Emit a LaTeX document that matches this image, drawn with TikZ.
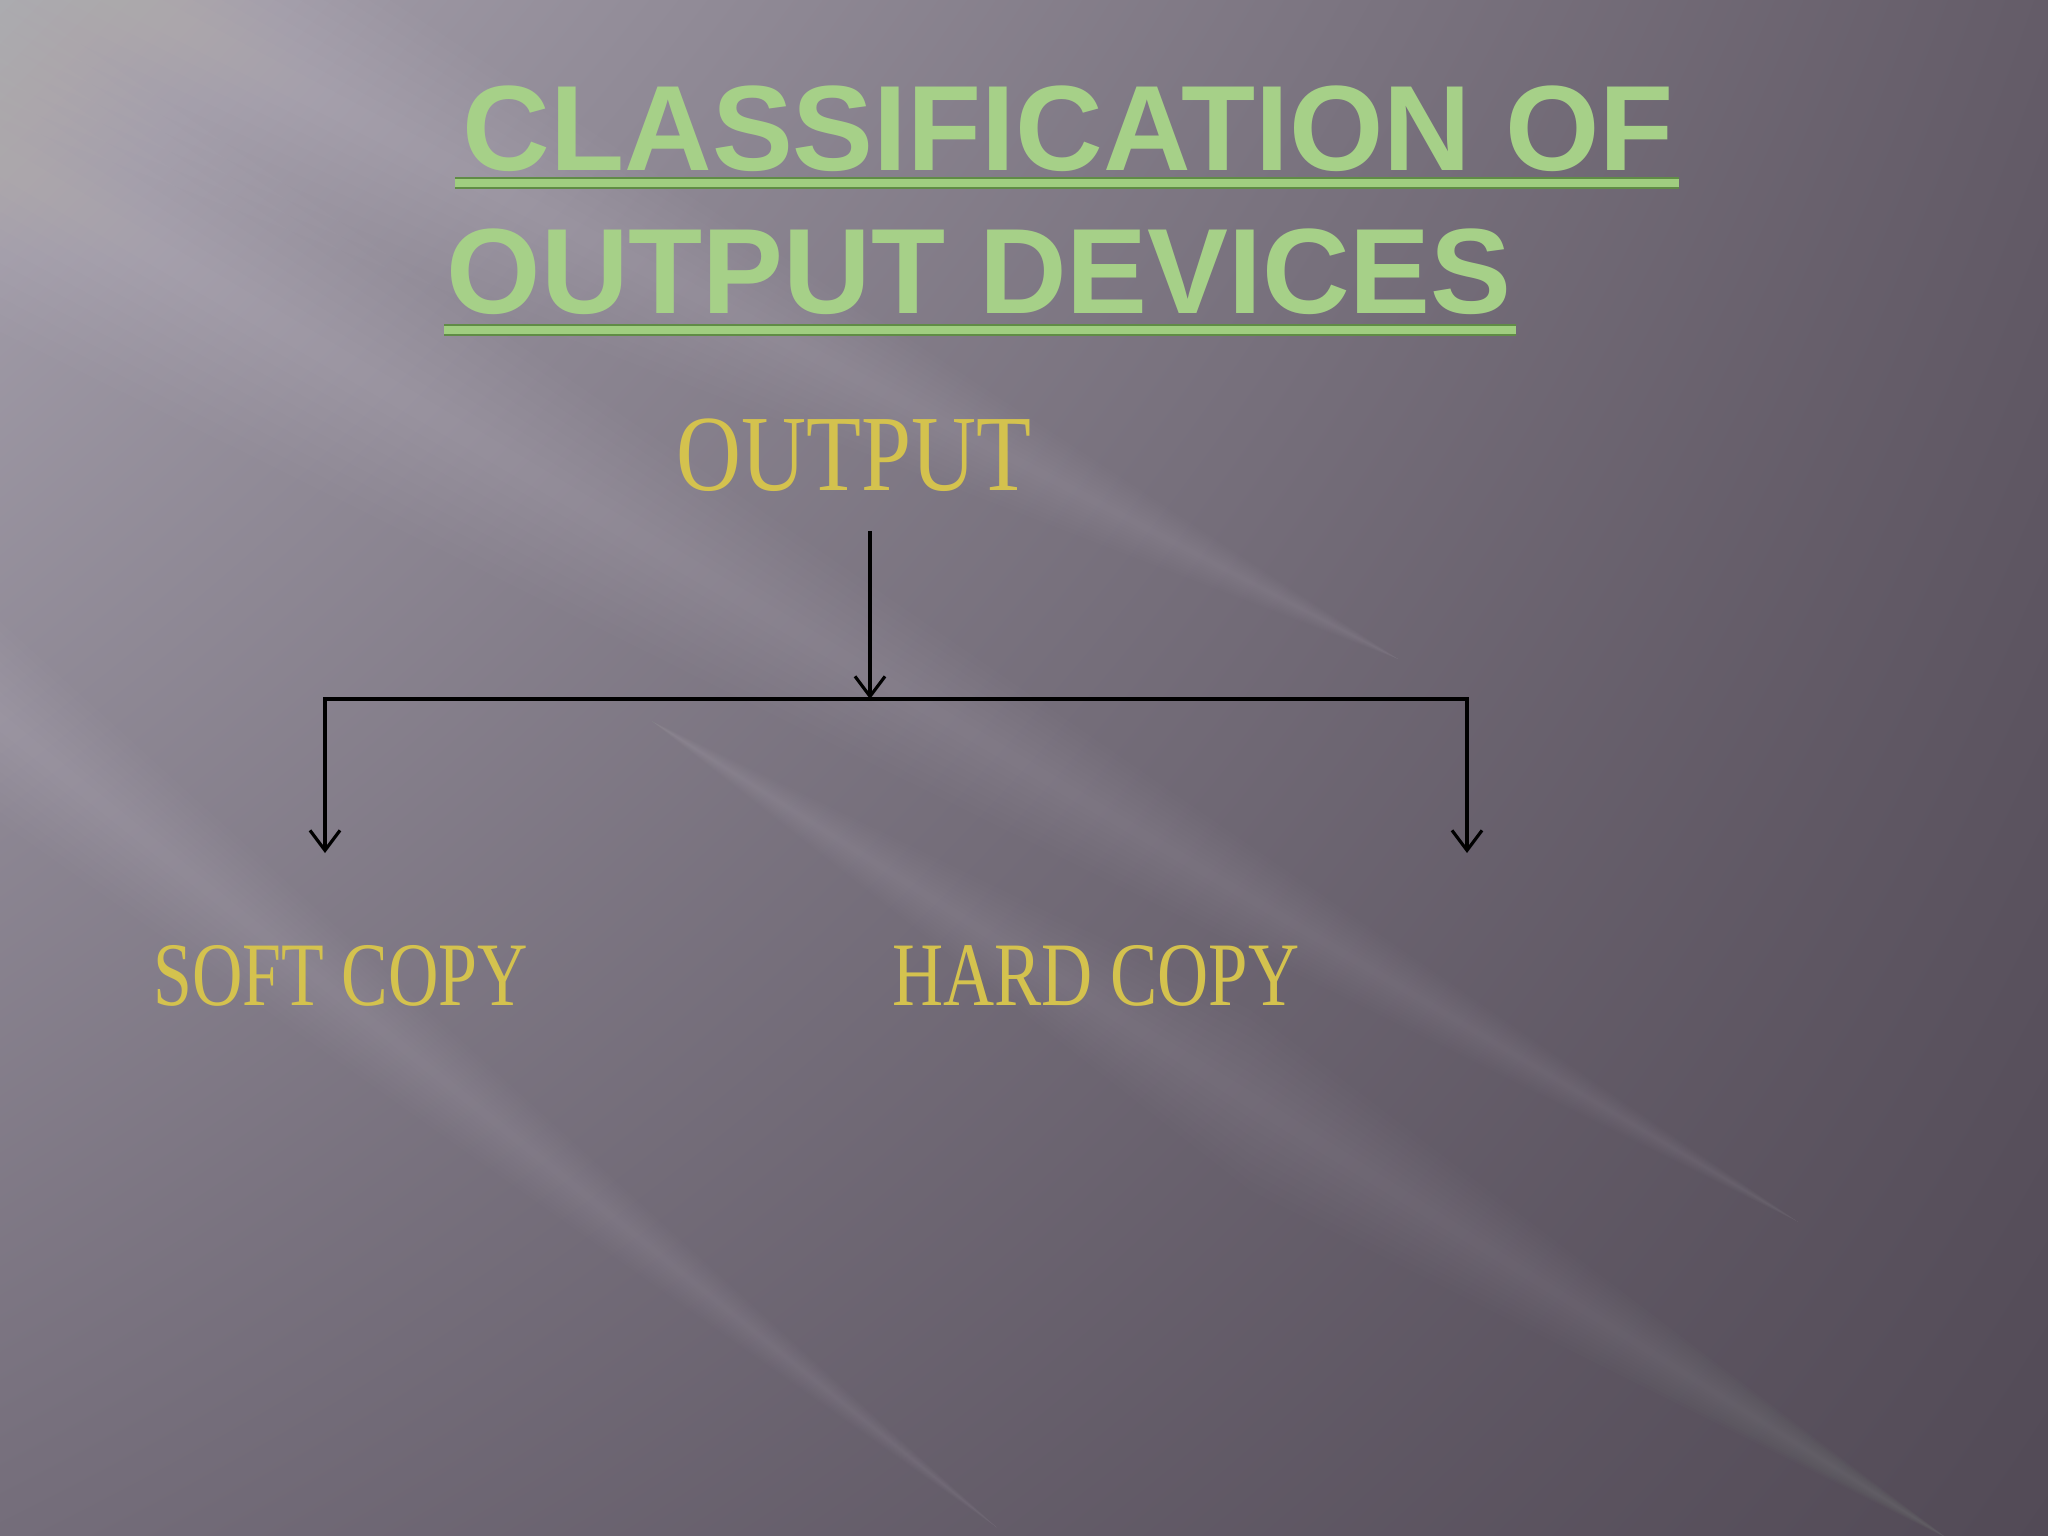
\documentclass[tikz,border=0pt]{standalone}
\usepackage{fontspec}
\usetikzlibrary{arrows.meta,positioning,shadings}
\newfontfamily\headfont{Liberation Sans}
\newfontfamily\goldfont{Liberation Serif}
\definecolor{bgul}{RGB}{168,163,175}
\definecolor{bgur}{RGB}{100,92,104}
\definecolor{bgll}{RGB}{116,109,122}
\definecolor{bglr}{RGB}{82,74,86}
\definecolor{titlegreen}{RGB}{166,208,136}
\definecolor{linegreen}{RGB}{160,206,128}
\definecolor{edgegreen}{RGB}{96,140,70}
\definecolor{gold}{RGB}{212,194,78}

\begin{document}
\begin{tikzpicture}[x=0.01cm,y=-0.01cm,
    ttl/.style={inner sep=0pt, anchor=base west, text=titlegreen,
      font=\headfont\bfseries\fontsize{34.5}{40}\selectfont},
    uline/.style={draw=edgegreen, line width=0.5pt, double=linegreen, double distance=2.2pt},
    lbl/.style={inner sep=0pt, anchor=base, text=gold},
    branch/.style={draw=black, line width=0.9pt, -{Straight Barb[length=0.2cm,width=0.3cm]}},
    streak/.style={fill=white, opacity=0.013}]
   \useasboundingbox (0,0) rectangle (2048,1536);

   % background and soft light streaks
   \shade[upper left=bgul, upper right=bgur, lower left=bgll, lower right=bglr]
     (0,0) rectangle (2048,1536);
   \foreach \w in {20,40,...,200}{
     \fill[streak] (-300,-17-\w) -- (1800,1223) -- (-300,-17+\w) -- cycle;
     \fill[streak] (-200,560-\w*0.6) -- (1000,1530) -- (-200,560+\w*0.6) -- cycle;
     \fill[streak] (650,720) -- (1250,1100-\w*0.45) -- (1950,1540) -- (1250,1100+\w*0.45) -- cycle;
     \fill[streak] (-100,-120-\w) -- (1400,660) -- (-100,-120+\w) -- cycle;
   }

   % title
   \node[ttl] (title1) at (462,170) {CLASSIFICATION OF};
   \node[ttl] (title2) at (446,313) {OUTPUT DEVICES};
   \draw[uline] ([shift={(-7,13)}]title1.base west) -- ([shift={(5,13)}]title1.base east);
   \draw[uline] ([shift={(-2,17)}]title2.base west) -- ([shift={(3,17)}]title2.base east);

   % tree
   \node[lbl] (output) at (854,490) {\goldfont\fontsize{30.8}{36}\selectfont\scalebox{0.83}[1]{OUTPUT}};
   \node[lbl] (soft) at (341,1005) {\goldfont\fontsize{25.8}{30}\selectfont\scalebox{0.77}[1]{SOFT COPY}};
   \node[lbl] (hard) at (1096,1005) {\goldfont\fontsize{25.8}{30}\selectfont\scalebox{0.78}[1]{HARD COPY}};

   \coordinate (fork) at (870,699);
   \coordinate (softtip) at (325,853);
   \coordinate (hardtip) at (1467,853);

   \draw[branch] ([shift={(16,39)}]output.south) -- (fork);
   \draw[branch] (fork) -| (softtip);
   \draw[branch] (fork) -| (hardtip);
\end{tikzpicture}
\end{document}
